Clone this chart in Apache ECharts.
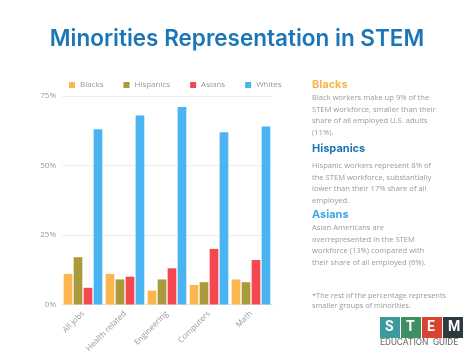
<!DOCTYPE html>
<html><head><meta charset="utf-8">
<script src="https://cdn.jsdelivr.net/npm/echarts@6/dist/echarts.min.js"></script>
<style>html,body{margin:0;padding:0;background:#fff}#c{width:474px;height:355px}</style>
</head><body><div id="c"></div>
<script>
const categories = ['All jobs', 'Health related', 'Engineering', 'Computers', 'Math'];
const blacks = [11, 11, 5, 7, 9];
const hispanics = [17, 9, 9, 8, 8];
const asians = [6, 10, 13, 20, 16];
const whites = [63, 68, 71, 62, 64];
const yTicks = [0, 25, 50, 75];

const notes = [
  {head: 'Blacks', color: '#f7b54d', y: 86, gap: 8, lines: ['Black workers make up 9% of the', 'STEM workforce, smaller than their', 'share of all employed U.S. adults', '(11%).']},
  {head: 'Hispanics', color: '#1b76b8', y: 150, gap: 12, lines: ['Hispanic workers represent 8% of', 'the STEM workforce, substantially', 'lower than their 17% share of all', 'employed.']},
  {head: 'Asians', color: '#3ea6e6', y: 216, gap: 8, lines: ['Asian Americans are', 'overrepresented in the STEM', 'workforce (13%) compared with', 'their share of all employed (6%).']}
];
const footnote = ['*The rest of the percentage represents', 'smaller groups of minorities.'];

const graphics = [];
notes.forEach(n => {
  graphics.push({type: 'text', left: 312, top: n.y - 7, style: {text: n.head, fill: n.color, font: 'bold 11px Inter, Roboto, sans-serif'}});
  n.lines.forEach((l, i) => {
    graphics.push({type: 'text', left: 312, top: n.y + n.gap + i * 11.5, style: {text: l, fill: '#9a9a9a', font: '7.6px "Open Sans", sans-serif'}});
  });
});
footnote.forEach((l, i) => {
  graphics.push({type: 'text', left: 312, top: 292 + i * 10.5, style: {text: l, fill: '#9a9a9a', font: '7.4px "Open Sans", sans-serif'}});
});
const logo = [['S', '#3b9a9e'], ['T', '#3e8f62'], ['E', '#d9432f'], ['M', '#2c3a40']];
logo.forEach((L, i) => {
  graphics.push({type: 'rect', shape: {x: 380 + i * 21, y: 317, width: 20, height: 21}, style: {fill: L[1]}});
  graphics.push({type: 'text', left: 385 + i * 21, top: 320, style: {text: L[0], fill: '#fff', font: 'bold 14px Roboto, sans-serif'}});
});
graphics.push({type: 'text', left: 380, top: 338, style: {text: 'EDUCATION  GUIDE', fill: '#6b6b6b', font: '9px Roboto, sans-serif'}});

const chart = echarts.init(document.getElementById('c'));
const mk = (name, data, color) => ({name, type: 'bar', data, itemStyle: {color}, barGap: '15%', barCategoryGap: '8%'});
chart.setOption({
  animation: false,
  title: {text: 'Minorities Representation in STEM', left: 'center', top: 23,
    textStyle: {color: '#1b76b8', fontSize: 22.5, fontWeight: 600, fontFamily: 'Inter, Roboto, sans-serif'}},
  legend: {top: 76, left: 64, itemWidth: 6, itemHeight: 6, itemGap: 20, icon: 'rect',
    textStyle: {color: '#999', fontSize: 8, fontFamily: '"Open Sans", sans-serif'}},
  grid: {left: 62, right: 202, top: 96, bottom: 49, containLabel: false},
  xAxis: {type: 'category', data: categories,
    axisLine: {show: true, lineStyle: {color: '#e6e6e6'}}, axisTick: {show: false},
    axisLabel: {rotate: 45, color: '#999', fontSize: 8, margin: 8, fontFamily: '"Open Sans", sans-serif'}},
  yAxis: {type: 'value', min: yTicks[0], max: yTicks[yTicks.length - 1], interval: 25,
    axisLabel: {formatter: '{value}%', color: '#999', fontSize: 8, margin: 6, fontFamily: '"Open Sans", sans-serif'},
    splitLine: {lineStyle: {color: '#eeeeee'}}, axisLine: {show: false}, axisTick: {show: false}},
  series: [mk('Blacks', blacks, '#fdb54e'), mk('Hispanics', hispanics, '#a99a3b'), mk('Asians', asians, '#f5474f'), mk('Whites', whites, '#4ab4f3')],
  graphic: graphics
});
</script></body></html>
